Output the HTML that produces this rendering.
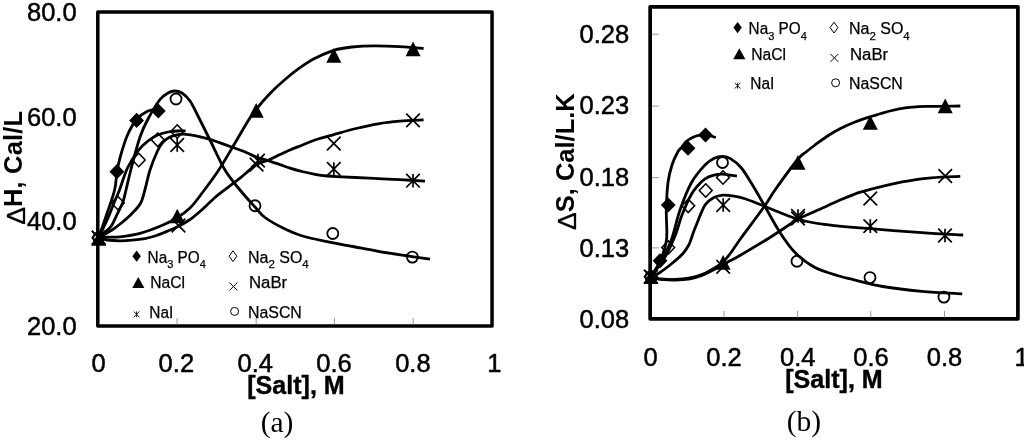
<!DOCTYPE html>
<html><head><meta charset="utf-8"><title>Figure</title>
<style>
html,body{margin:0;padding:0;background:#fff;}
body{width:1024px;height:440px;overflow:hidden;}
svg{display:block;}
text{font-family:"Liberation Sans",Arial,sans-serif;fill:#000;}
.tk{font-size:25.5px;stroke:#000;stroke-width:0.5px;}
.lg{font-size:16px;stroke:#000;stroke-width:0.25px;}
.sub{font-size:11.5px;}
.ti{font-size:25.5px;font-weight:bold;stroke:#000;stroke-width:0.4px;}
.yt{stroke-width:0;letter-spacing:0.15px;}
.dl{font-weight:normal;font-size:26.5px;stroke-width:0.3px;}
.cap{font-family:"Liberation Serif","Times New Roman",serif;font-size:29.5px;}
</style></head><body>
<svg width="1024" height="440" viewBox="0 0 1024 440">
<rect width="1024" height="440" fill="#fff"/>
<rect x="97.80" y="11.90" width="394.25" height="314.20" fill="none" stroke="#000" stroke-width="3.5" stroke-linejoin="round"/>
<line x1="177.10" y1="318" x2="177.10" y2="324.5" stroke="#8c8c8c" stroke-width="0.9"/>
<line x1="256.20" y1="318" x2="256.20" y2="324.5" stroke="#8c8c8c" stroke-width="0.9"/>
<line x1="334.40" y1="318" x2="334.40" y2="324.5" stroke="#8c8c8c" stroke-width="0.9"/>
<line x1="413.20" y1="318" x2="413.20" y2="324.5" stroke="#8c8c8c" stroke-width="0.9"/>
<path d="M98.70,237.70 C100.25,237.62 104.45,237.35 108.00,237.20 C111.55,237.05 114.67,237.45 120.00,236.80 C125.33,236.15 133.33,235.05 140.00,233.30 C146.67,231.55 154.00,228.77 160.00,226.30 C166.00,223.83 171.00,221.55 176.00,218.50 C181.00,215.45 185.58,212.33 190.00,208.00 C194.42,203.67 197.71,198.83 202.50,192.50 C207.29,186.17 213.33,178.25 218.75,170.00 C224.17,161.75 230.12,151.17 235.00,143.00 C239.88,134.83 244.50,126.58 248.00,121.00 C251.50,115.42 252.33,114.08 256.00,109.50 C259.67,104.92 265.17,98.50 270.00,93.50 C274.83,88.50 280.00,83.80 285.00,79.50 C290.00,75.20 295.00,71.23 300.00,67.70 C305.00,64.17 309.37,61.20 315.00,58.30 C320.63,55.40 327.63,52.18 333.80,50.30 C339.97,48.42 345.25,47.75 352.00,47.00 C358.75,46.25 366.30,45.87 374.30,45.80 C382.30,45.73 391.78,46.15 400.00,46.60 C408.22,47.05 419.67,48.18 423.60,48.50" fill="none" stroke="#000" stroke-width="2.80" stroke-linecap="butt" stroke-linejoin="round"/>
<path d="M98.70,237.70 C100.13,238.08 103.75,239.48 107.30,240.00 C110.85,240.52 115.88,240.77 120.00,240.80 C124.12,240.83 127.83,240.57 132.00,240.20 C136.17,239.83 141.17,239.30 145.00,238.60 C148.83,237.90 152.00,236.93 155.00,236.00 C158.00,235.07 159.33,234.50 163.00,233.00 C166.67,231.50 172.50,229.25 177.00,227.00 C181.50,224.75 186.08,222.17 190.00,219.50 C193.92,216.83 196.33,214.67 200.50,211.00 C204.67,207.33 210.42,201.45 215.00,197.50 C219.58,193.55 223.83,190.52 228.00,187.30 C232.17,184.08 235.29,181.95 240.00,178.20 C244.71,174.45 251.46,167.83 256.25,164.80 C261.04,161.77 264.79,161.70 268.75,160.00 C272.71,158.30 276.46,156.27 280.00,154.60 C283.54,152.93 286.33,151.57 290.00,150.00 C293.67,148.43 297.83,146.87 302.00,145.20 C306.17,143.53 309.70,141.77 315.00,140.00 C320.30,138.23 326.97,136.52 333.80,134.60 C340.63,132.68 348.60,130.30 356.00,128.50 C363.40,126.70 370.87,125.02 378.20,123.80 C385.53,122.58 392.43,121.85 400.00,121.20 C407.57,120.55 419.67,120.12 423.60,119.90" fill="none" stroke="#000" stroke-width="2.80" stroke-linecap="butt" stroke-linejoin="round"/>
<path d="M98.70,237.70 C100.92,236.42 108.12,232.53 112.00,230.00 C115.88,227.47 118.75,225.17 122.00,222.50 C125.25,219.83 128.38,217.25 131.50,214.00 C134.62,210.75 138.38,207.33 140.70,203.00 C143.02,198.67 143.85,193.50 145.40,188.00 C146.95,182.50 147.98,176.17 150.00,170.00 C152.02,163.83 155.33,155.67 157.50,151.00 C159.67,146.33 160.92,144.33 163.00,142.00 C165.08,139.67 167.50,138.23 170.00,137.00 C172.50,135.77 175.33,135.05 178.00,134.60 C180.67,134.15 183.00,134.10 186.00,134.30 C189.00,134.50 192.00,134.95 196.00,135.80 C200.00,136.65 204.33,137.62 210.00,139.40 C215.67,141.18 225.00,144.73 230.00,146.50 C235.00,148.27 237.00,148.87 240.00,150.00 C243.00,151.13 245.17,152.10 248.00,153.30 C250.83,154.50 253.54,155.95 257.00,157.20 C260.46,158.45 264.92,159.57 268.75,160.80 C272.58,162.03 276.46,163.38 280.00,164.60 C283.54,165.82 286.33,166.95 290.00,168.10 C293.67,169.25 297.83,170.47 302.00,171.50 C306.17,172.53 310.75,173.55 315.00,174.30 C319.25,175.05 323.33,175.58 327.50,176.00 C331.67,176.42 335.42,176.55 340.00,176.80 C344.58,177.05 348.63,177.20 355.00,177.50 C361.37,177.80 370.70,178.23 378.20,178.60 C385.70,178.97 392.20,179.28 400.00,179.70 C407.80,180.12 420.83,180.87 425.00,181.10" fill="none" stroke="#000" stroke-width="2.80" stroke-linecap="butt" stroke-linejoin="round"/>
<path d="M98.70,237.70 C99.75,236.75 102.91,233.95 105.00,232.00 C107.09,230.05 109.17,229.08 111.25,226.00 C113.33,222.92 115.58,217.42 117.50,213.50 C119.42,209.58 121.33,206.42 122.75,202.50 C124.17,198.58 124.58,195.75 126.00,190.00 C127.42,184.25 128.97,176.83 131.30,168.00 C133.63,159.17 137.22,145.17 140.00,137.00 C142.78,128.83 144.67,125.25 148.00,119.00 C151.33,112.75 156.67,103.83 160.00,99.50 C163.33,95.17 165.58,94.42 168.00,93.00 C170.42,91.58 172.17,91.00 174.50,91.00 C176.83,91.00 179.42,91.33 182.00,93.00 C184.58,94.67 187.33,97.17 190.00,101.00 C192.67,104.83 194.67,109.50 198.00,116.00 C201.33,122.50 205.50,131.00 210.00,140.00 C214.50,149.00 220.00,161.67 225.00,170.00 C230.00,178.33 235.00,183.83 240.00,190.00 C245.00,196.17 250.83,202.42 255.00,207.00 C259.17,211.58 260.33,214.00 265.00,217.50 C269.67,221.00 276.75,224.92 283.00,228.00 C289.25,231.08 294.78,233.65 302.50,236.00 C310.22,238.35 320.92,240.35 329.30,242.10 C337.68,243.85 344.65,244.97 352.80,246.50 C360.95,248.03 369.50,249.80 378.20,251.30 C386.90,252.80 396.37,254.20 405.00,255.50 C413.63,256.80 425.83,258.50 430.00,259.10" fill="none" stroke="#000" stroke-width="2.80" stroke-linecap="butt" stroke-linejoin="round"/>
<path d="M98.70,237.70 C100.25,234.42 105.42,223.87 108.00,218.00 C110.58,212.13 112.28,207.17 114.20,202.50 C116.12,197.83 117.28,195.75 119.50,190.00 C121.72,184.25 124.29,174.67 127.50,168.00 C130.71,161.33 135.33,154.50 138.75,150.00 C142.17,145.50 144.88,143.50 148.00,141.00 C151.12,138.50 154.17,136.50 157.50,135.00 C160.83,133.50 164.75,132.67 168.00,132.00 C171.25,131.33 174.07,131.17 177.00,131.00 C179.93,130.83 184.17,131.00 185.60,131.00" fill="none" stroke="#000" stroke-width="2.80" stroke-linecap="butt" stroke-linejoin="round"/>
<path d="M98.70,237.70 C100.05,233.75 104.15,221.95 106.80,214.00 C109.45,206.05 112.90,197.05 114.60,190.00 C116.30,182.95 116.02,177.37 117.00,171.70 C117.98,166.03 118.75,162.12 120.50,156.00 C122.25,149.88 124.83,141.08 127.50,135.00 C130.17,128.92 133.25,123.42 136.50,119.50 C139.75,115.58 143.33,113.28 147.00,111.50 C150.67,109.72 156.58,109.25 158.50,108.80" fill="none" stroke="#000" stroke-width="2.80" stroke-linecap="butt" stroke-linejoin="round"/>
<path d="M116.90,164.10 L124.30,171.70 L116.90,179.30 L109.50,171.70Z" fill="#000"/>
<path d="M136.60,112.80 L144.00,120.40 L136.60,128.00 L129.20,120.40Z" fill="#000"/>
<path d="M158.30,103.40 L165.70,111.00 L158.30,118.60 L150.90,111.00Z" fill="#000"/>
<path d="M98.70,231.00 L105.10,237.70 L98.70,244.40 L92.30,237.70Z" fill="none" stroke="#000" stroke-width="1.60"/>
<path d="M117.80,196.30 L124.20,203.00 L117.80,209.70 L111.40,203.00Z" fill="none" stroke="#000" stroke-width="1.60"/>
<path d="M138.75,153.30 L145.15,160.00 L138.75,166.70 L132.35,160.00Z" fill="none" stroke="#000" stroke-width="1.60"/>
<path d="M157.70,133.10 L164.10,139.80 L157.70,146.50 L151.30,139.80Z" fill="none" stroke="#000" stroke-width="1.60"/>
<path d="M177.20,124.80 L183.60,131.50 L177.20,138.20 L170.80,131.50Z" fill="none" stroke="#000" stroke-width="1.60"/>
<path d="M98.70,231.15 L106.20,245.85 L91.20,245.85Z" fill="#000"/>
<path d="M177.30,208.65 L184.80,223.35 L169.80,223.35Z" fill="#000"/>
<path d="M256.20,102.95 L263.70,117.65 L248.70,117.65Z" fill="#000"/>
<path d="M333.80,48.05 L341.30,62.75 L326.30,62.75Z" fill="#000"/>
<path d="M413.10,41.55 L420.60,56.25 L405.60,56.25Z" fill="#000"/>
<path d="M91.90,230.90 L105.50,244.50 M91.90,244.50 L105.50,230.90" stroke="#000" stroke-width="1.70" fill="none"/>
<path d="M171.70,218.70 L185.30,232.30 M171.70,232.30 L185.30,218.70" stroke="#000" stroke-width="1.70" fill="none"/>
<path d="M249.80,157.80 L263.40,171.40 M249.80,171.40 L263.40,157.80" stroke="#000" stroke-width="1.70" fill="none"/>
<path d="M327.00,136.70 L340.60,150.30 M327.00,150.30 L340.60,136.70" stroke="#000" stroke-width="1.70" fill="none"/>
<path d="M406.20,113.60 L419.80,127.20 M406.20,127.20 L419.80,113.60" stroke="#000" stroke-width="1.70" fill="none"/>
<path d="M91.90,230.90 L105.50,244.50 M91.90,244.50 L105.50,230.90 M98.70,230.90 L98.70,244.50" stroke="#000" stroke-width="1.70" fill="none"/>
<path d="M170.40,138.20 L184.00,151.80 M170.40,151.80 L184.00,138.20 M177.20,138.20 L177.20,151.80" stroke="#000" stroke-width="1.70" fill="none"/>
<path d="M251.20,153.80 L264.80,167.40 M251.20,167.40 L264.80,153.80 M258.00,153.80 L258.00,167.40" stroke="#000" stroke-width="1.70" fill="none"/>
<path d="M327.00,162.20 L340.60,175.80 M327.00,175.80 L340.60,162.20 M333.80,162.20 L333.80,175.80" stroke="#000" stroke-width="1.70" fill="none"/>
<path d="M406.20,173.90 L419.80,187.50 M406.20,187.50 L419.80,173.90 M413.00,173.90 L413.00,187.50" stroke="#000" stroke-width="1.70" fill="none"/>
<circle cx="98.70" cy="237.70" r="5.50" fill="none" stroke="#000" stroke-width="1.80"/>
<circle cx="176.00" cy="99.00" r="5.50" fill="none" stroke="#000" stroke-width="1.80"/>
<circle cx="255.00" cy="205.75" r="5.50" fill="none" stroke="#000" stroke-width="1.80"/>
<circle cx="332.80" cy="233.50" r="5.50" fill="none" stroke="#000" stroke-width="1.80"/>
<circle cx="412.40" cy="257.10" r="5.50" fill="none" stroke="#000" stroke-width="1.80"/>
<rect x="650.15" y="6.80" width="367.75" height="312.00" fill="none" stroke="#000" stroke-width="3.7" stroke-linejoin="round"/>
<line x1="724.00" y1="311" x2="724.00" y2="317.5" stroke="#8c8c8c" stroke-width="0.9"/>
<line x1="797.50" y1="311" x2="797.50" y2="317.5" stroke="#8c8c8c" stroke-width="0.9"/>
<line x1="870.80" y1="311" x2="870.80" y2="317.5" stroke="#8c8c8c" stroke-width="0.9"/>
<line x1="944.50" y1="311" x2="944.50" y2="317.5" stroke="#8c8c8c" stroke-width="0.9"/>
<line x1="652" y1="34.20" x2="659" y2="34.20" stroke="#8c8c8c" stroke-width="0.9"/>
<line x1="652" y1="106.10" x2="659" y2="106.10" stroke="#8c8c8c" stroke-width="0.9"/>
<line x1="652" y1="177.60" x2="659" y2="177.60" stroke="#8c8c8c" stroke-width="0.9"/>
<line x1="652" y1="247.90" x2="659" y2="247.90" stroke="#8c8c8c" stroke-width="0.9"/>
<path d="M650.20,277.50 C652.00,277.75 656.87,278.67 661.00,279.00 C665.13,279.33 670.17,279.67 675.00,279.50 C679.83,279.33 685.42,278.87 690.00,278.00 C694.58,277.13 698.33,276.02 702.50,274.30 C706.67,272.58 711.58,269.75 715.00,267.70 C718.42,265.65 720.33,264.53 723.00,262.00 C725.67,259.47 728.17,256.25 731.00,252.50 C733.83,248.75 734.33,247.33 740.00,239.50 C745.67,231.67 759.17,213.75 765.00,205.50 C770.83,197.25 769.50,197.75 775.00,190.00 C780.50,182.25 792.83,165.33 798.00,159.00 C803.17,152.67 803.17,154.33 806.00,152.00 C808.83,149.67 811.42,147.67 815.00,145.00 C818.58,142.33 823.33,138.72 827.50,136.00 C831.67,133.28 835.42,131.03 840.00,128.70 C844.58,126.37 849.95,123.98 855.00,122.00 C860.05,120.02 865.30,118.42 870.30,116.80 C875.30,115.18 879.68,113.72 885.00,112.30 C890.32,110.88 895.42,109.28 902.20,108.30 C908.98,107.32 916.02,106.78 925.70,106.40 C935.38,106.02 954.53,106.07 960.30,106.00" fill="none" stroke="#000" stroke-width="2.80" stroke-linecap="butt" stroke-linejoin="round"/>
<path d="M650.20,277.50 C652.00,277.80 656.87,278.88 661.00,279.30 C665.13,279.72 670.17,280.08 675.00,280.00 C679.83,279.92 685.42,279.58 690.00,278.80 C694.58,278.02 698.33,276.93 702.50,275.30 C706.67,273.67 710.92,271.13 715.00,269.00 C719.08,266.87 722.83,264.75 727.00,262.50 C731.17,260.25 733.17,259.46 740.00,255.50 C746.83,251.54 758.42,244.75 768.00,238.75 C777.58,232.75 790.50,223.69 797.50,219.50 C804.50,215.31 805.83,215.52 810.00,213.60 C814.17,211.68 819.17,209.52 822.50,208.00 C825.83,206.48 827.08,205.83 830.00,204.50 C832.92,203.17 836.50,201.48 840.00,200.00 C843.50,198.52 847.15,197.05 851.00,195.60 C854.85,194.15 854.57,193.58 863.10,191.30 C871.63,189.02 890.80,184.15 902.20,181.90 C913.60,179.65 921.82,178.72 931.50,177.80 C941.18,176.88 955.50,176.63 960.30,176.40" fill="none" stroke="#000" stroke-width="2.80" stroke-linecap="butt" stroke-linejoin="round"/>
<path d="M650.20,277.50 C651.62,276.80 655.24,275.55 658.75,273.30 C662.26,271.05 667.29,267.22 671.25,264.00 C675.21,260.78 679.58,257.17 682.50,254.00 C685.42,250.83 687.08,248.17 688.75,245.00 C690.42,241.83 691.38,238.00 692.50,235.00 C693.62,232.00 693.42,232.00 695.50,227.00 C697.58,222.00 701.92,209.92 705.00,205.00 C708.08,200.08 711.00,199.13 714.00,197.50 C717.00,195.87 720.00,195.48 723.00,195.20 C726.00,194.92 728.33,195.21 732.00,195.80 C735.67,196.39 739.50,196.97 745.00,198.75 C750.50,200.53 756.25,203.12 765.00,206.50 C773.75,209.88 787.67,216.03 797.50,219.00 C807.33,221.97 811.87,222.68 824.00,224.30 C836.13,225.92 854.00,227.32 870.30,228.70 C886.60,230.08 906.32,231.55 921.80,232.60 C937.28,233.65 956.30,234.60 963.20,235.00" fill="none" stroke="#000" stroke-width="2.80" stroke-linecap="butt" stroke-linejoin="round"/>
<path d="M650.20,277.50 C652.33,274.25 659.37,264.58 663.00,258.00 C666.63,251.42 669.17,246.00 672.00,238.00 C674.83,230.00 676.75,219.25 680.00,210.00 C683.25,200.75 687.33,190.00 691.50,182.50 C695.67,175.00 701.29,169.02 705.00,165.00 C708.71,160.98 710.92,159.85 713.75,158.40 C716.58,156.95 719.29,156.30 722.00,156.30 C724.71,156.30 726.83,156.53 730.00,158.40 C733.17,160.27 737.25,163.07 741.00,167.50 C744.75,171.93 748.50,178.50 752.50,185.00 C756.50,191.50 760.42,198.58 765.00,206.50 C769.58,214.42 775.00,224.83 780.00,232.50 C785.00,240.17 789.17,246.67 795.00,252.50 C800.83,258.33 807.50,263.54 815.00,267.50 C822.50,271.46 833.62,274.23 840.00,276.25 C846.38,278.27 846.18,277.89 853.30,279.60 C860.42,281.31 871.28,284.53 882.70,286.50 C894.12,288.47 908.55,290.17 921.80,291.40 C935.05,292.63 955.47,293.48 962.20,293.90" fill="none" stroke="#000" stroke-width="2.80" stroke-linecap="butt" stroke-linejoin="round"/>
<path d="M650.20,277.50 C652.67,274.08 660.87,263.92 665.00,257.00 C669.13,250.08 672.17,243.00 675.00,236.00 C677.83,229.00 679.33,221.83 682.00,215.00 C684.67,208.17 688.33,199.92 691.00,195.00 C693.67,190.08 695.67,188.20 698.00,185.50 C700.33,182.80 702.50,180.50 705.00,178.80 C707.50,177.10 710.08,176.08 713.00,175.30 C715.92,174.52 718.52,173.97 722.50,174.10 C726.48,174.23 734.50,175.77 736.90,176.10" fill="none" stroke="#000" stroke-width="2.80" stroke-linecap="butt" stroke-linejoin="round"/>
<path d="M650.20,277.50 C651.83,274.83 657.28,267.75 660.00,261.50 C662.72,255.25 665.45,248.58 666.50,240.00 C667.55,231.42 666.05,219.58 666.30,210.00 C666.55,200.42 667.05,190.00 668.00,182.50 C668.95,175.00 670.42,170.00 672.00,165.00 C673.58,160.00 675.85,155.50 677.50,152.50 C679.15,149.50 680.44,148.83 681.90,147.00 C683.36,145.17 684.48,143.10 686.25,141.50 C688.02,139.90 690.42,138.43 692.50,137.40 C694.58,136.37 696.58,135.72 698.75,135.30 C700.92,134.88 703.46,134.78 705.50,134.90 C707.54,135.02 709.29,135.55 711.00,136.00 C712.71,136.45 714.96,137.33 715.75,137.60" fill="none" stroke="#000" stroke-width="2.80" stroke-linecap="butt" stroke-linejoin="round"/>
<path d="M660.00,253.20 L667.40,260.80 L660.00,268.40 L652.60,260.80Z" fill="#000"/>
<path d="M668.20,197.40 L675.60,205.00 L668.20,212.60 L660.80,205.00Z" fill="#000"/>
<path d="M688.00,140.65 L695.40,148.25 L688.00,155.85 L680.60,148.25Z" fill="#000"/>
<path d="M705.50,127.40 L712.90,135.00 L705.50,142.60 L698.10,135.00Z" fill="#000"/>
<path d="M650.90,270.00 L657.30,276.70 L650.90,283.40 L644.50,276.70Z" fill="none" stroke="#000" stroke-width="1.60"/>
<path d="M668.20,240.80 L674.60,247.50 L668.20,254.20 L661.80,247.50Z" fill="none" stroke="#000" stroke-width="1.60"/>
<path d="M688.20,199.10 L694.60,205.80 L688.20,212.50 L681.80,205.80Z" fill="none" stroke="#000" stroke-width="1.60"/>
<path d="M705.70,183.80 L712.10,190.50 L705.70,197.20 L699.30,190.50Z" fill="none" stroke="#000" stroke-width="1.60"/>
<path d="M723.00,170.80 L729.40,177.50 L723.00,184.20 L716.60,177.50Z" fill="none" stroke="#000" stroke-width="1.60"/>
<path d="M650.90,269.35 L658.40,284.05 L643.40,284.05Z" fill="#000"/>
<path d="M723.10,255.05 L730.60,269.75 L715.60,269.75Z" fill="#000"/>
<path d="M798.00,154.95 L805.50,169.65 L790.50,169.65Z" fill="#000"/>
<path d="M870.30,115.15 L877.80,129.85 L862.80,129.85Z" fill="#000"/>
<path d="M945.20,98.55 L952.70,113.25 L937.70,113.25Z" fill="#000"/>
<path d="M644.10,269.90 L657.70,283.50 M644.10,283.50 L657.70,269.90" stroke="#000" stroke-width="1.70" fill="none"/>
<path d="M716.40,260.00 L730.00,273.60 M716.40,273.60 L730.00,260.00" stroke="#000" stroke-width="1.70" fill="none"/>
<path d="M791.20,211.70 L804.80,225.30 M791.20,225.30 L804.80,211.70" stroke="#000" stroke-width="1.70" fill="none"/>
<path d="M863.50,191.70 L877.10,205.30 M863.50,205.30 L877.10,191.70" stroke="#000" stroke-width="1.70" fill="none"/>
<path d="M938.40,169.20 L952.00,182.80 M938.40,182.80 L952.00,169.20" stroke="#000" stroke-width="1.70" fill="none"/>
<path d="M644.10,269.90 L657.70,283.50 M644.10,283.50 L657.70,269.90 M650.90,269.90 L650.90,283.50" stroke="#000" stroke-width="1.70" fill="none"/>
<path d="M716.40,198.20 L730.00,211.80 M716.40,211.80 L730.00,198.20 M723.20,198.20 L723.20,211.80" stroke="#000" stroke-width="1.70" fill="none"/>
<path d="M791.20,209.20 L804.80,222.80 M791.20,222.80 L804.80,209.20 M798.00,209.20 L798.00,222.80" stroke="#000" stroke-width="1.70" fill="none"/>
<path d="M863.50,219.30 L877.10,232.90 M863.50,232.90 L877.10,219.30 M870.30,219.30 L870.30,232.90" stroke="#000" stroke-width="1.70" fill="none"/>
<path d="M938.20,228.70 L951.80,242.30 M938.20,242.30 L951.80,228.70 M945.00,228.70 L945.00,242.30" stroke="#000" stroke-width="1.70" fill="none"/>
<circle cx="650.90" cy="276.70" r="5.50" fill="none" stroke="#000" stroke-width="1.80"/>
<circle cx="722.50" cy="162.50" r="5.50" fill="none" stroke="#000" stroke-width="1.80"/>
<circle cx="797.00" cy="261.25" r="5.50" fill="none" stroke="#000" stroke-width="1.80"/>
<circle cx="870.00" cy="277.60" r="5.50" fill="none" stroke="#000" stroke-width="1.80"/>
<circle cx="943.90" cy="297.10" r="5.50" fill="none" stroke="#000" stroke-width="1.80"/>
<path d="M136.60,250.60 L140.80,256.20 L136.60,261.80 L132.40,256.20Z" fill="#000"/>
<text class="lg" x="147.60" y="262.60" textLength="58.2" lengthAdjust="spacingAndGlyphs">Na<tspan class="sub" dy="5.5">3</tspan><tspan dy="-5.5"> PO</tspan><tspan class="sub" dy="5.5">4</tspan></text>
<path d="M233.00,250.80 L236.90,256.20 L233.00,261.60 L229.10,256.20Z" fill="none" stroke="#000" stroke-width="1.00"/>
<text class="lg" x="248.00" y="262.60" textLength="60.7" lengthAdjust="spacingAndGlyphs">Na<tspan class="sub" dy="5.5">2</tspan><tspan dy="-5.5"> SO</tspan><tspan class="sub" dy="5.5">4</tspan></text>
<path d="M138.30,276.90 L144.40,287.90 L132.20,287.90Z" fill="#000"/>
<text class="lg" x="150.30" y="288.40" textLength="34.8" lengthAdjust="spacingAndGlyphs">NaCl</text>
<path d="M229.40,282.50 L237.40,290.50 M229.40,290.50 L237.40,282.50" stroke="#000" stroke-width="1.00" fill="none"/>
<text class="lg" x="249.00" y="288.40" textLength="38.2" lengthAdjust="spacingAndGlyphs">NaBr</text>
<path d="M133.70,311.40 L139.50,317.20 M133.70,317.20 L139.50,311.40 M136.60,311.40 L136.60,317.20" stroke="#000" stroke-width="0.90" fill="none"/>
<text class="lg" x="149.30" y="317.80" textLength="24" lengthAdjust="spacingAndGlyphs">NaI</text>
<circle cx="234.60" cy="311.40" r="4.00" fill="none" stroke="#000" stroke-width="1.00"/>
<text class="lg" x="248.00" y="317.80" textLength="53.8" lengthAdjust="spacingAndGlyphs">NaSCN</text>
<path d="M737.60,22.00 L741.80,27.60 L737.60,33.20 L733.40,27.60Z" fill="#000"/>
<text class="lg" x="748.60" y="34.00" textLength="58.2" lengthAdjust="spacingAndGlyphs">Na<tspan class="sub" dy="5.5">3</tspan><tspan dy="-5.5"> PO</tspan><tspan class="sub" dy="5.5">4</tspan></text>
<path d="M834.00,22.20 L837.90,27.60 L834.00,33.00 L830.10,27.60Z" fill="none" stroke="#000" stroke-width="1.00"/>
<text class="lg" x="849.00" y="34.00" textLength="60.7" lengthAdjust="spacingAndGlyphs">Na<tspan class="sub" dy="5.5">2</tspan><tspan dy="-5.5"> SO</tspan><tspan class="sub" dy="5.5">4</tspan></text>
<path d="M739.30,48.30 L745.40,59.30 L733.20,59.30Z" fill="#000"/>
<text class="lg" x="751.30" y="59.80" textLength="34.8" lengthAdjust="spacingAndGlyphs">NaCl</text>
<path d="M830.40,53.90 L838.40,61.90 M830.40,61.90 L838.40,53.90" stroke="#000" stroke-width="1.00" fill="none"/>
<text class="lg" x="850.00" y="59.80" textLength="38.2" lengthAdjust="spacingAndGlyphs">NaBr</text>
<path d="M734.70,82.80 L740.50,88.60 M734.70,88.60 L740.50,82.80 M737.60,82.80 L737.60,88.60" stroke="#000" stroke-width="0.90" fill="none"/>
<text class="lg" x="750.30" y="89.20" textLength="24" lengthAdjust="spacingAndGlyphs">NaI</text>
<circle cx="835.60" cy="82.80" r="4.00" fill="none" stroke="#000" stroke-width="1.00"/>
<text class="lg" x="849.00" y="89.20" textLength="53.8" lengthAdjust="spacingAndGlyphs">NaSCN</text>
<text class="tk" x="76.60" y="21.10" text-anchor="end">80.0</text>
<text class="tk" x="76.60" y="125.80" text-anchor="end">60.0</text>
<text class="tk" x="76.60" y="230.40" text-anchor="end">40.0</text>
<text class="tk" x="76.60" y="335.10" text-anchor="end">20.0</text>
<text class="tk" x="98.60" y="371.80" text-anchor="middle">0</text>
<text class="tk" x="176.35" y="371.80" text-anchor="middle">0.2</text>
<text class="tk" x="255.20" y="371.80" text-anchor="middle">0.4</text>
<text class="tk" x="334.05" y="371.80" text-anchor="middle">0.6</text>
<text class="tk" x="412.90" y="371.80" text-anchor="middle">0.8</text>
<text class="tk" x="494.25" y="371.80" text-anchor="middle">1</text>
<text class="tk" x="629.20" y="43.10" text-anchor="end">0.28</text>
<text class="tk" x="629.20" y="114.00" text-anchor="end">0.23</text>
<text class="tk" x="629.20" y="185.70" text-anchor="end">0.18</text>
<text class="tk" x="629.20" y="256.90" text-anchor="end">0.13</text>
<text class="tk" x="629.20" y="328.10" text-anchor="end">0.08</text>
<text class="tk" x="650.70" y="365.70" text-anchor="middle">0</text>
<text class="tk" x="724.00" y="365.70" text-anchor="middle">0.2</text>
<text class="tk" x="797.70" y="365.70" text-anchor="middle">0.4</text>
<text class="tk" x="871.00" y="365.70" text-anchor="middle">0.6</text>
<text class="tk" x="944.50" y="365.70" text-anchor="middle">0.8</text>
<text class="tk" x="1021.50" y="365.70" text-anchor="middle">1</text>
<text class="ti" x="296" y="394" text-anchor="middle" textLength="97.5" lengthAdjust="spacingAndGlyphs">[Salt], M</text>
<text class="ti" x="834" y="388.2" text-anchor="middle" textLength="97.5" lengthAdjust="spacingAndGlyphs">[Salt], M</text>
<text class="ti yt" transform="translate(22.2,224.8) rotate(-90)"><tspan class="dl" dy="2.6">Δ</tspan><tspan dy="-2.6">H, Cal/L</tspan></text>
<text class="ti yt" style="letter-spacing:0" transform="translate(573.6,230.0) rotate(-90)"><tspan class="dl" dy="2.6">Δ</tspan><tspan dy="-2.6">S, Cal/L.K</tspan></text>
<text class="cap" x="277" y="431.7" text-anchor="middle">(a)</text>
<text class="cap" x="804" y="431.2" text-anchor="middle">(b)</text>
</svg>
</body></html>
